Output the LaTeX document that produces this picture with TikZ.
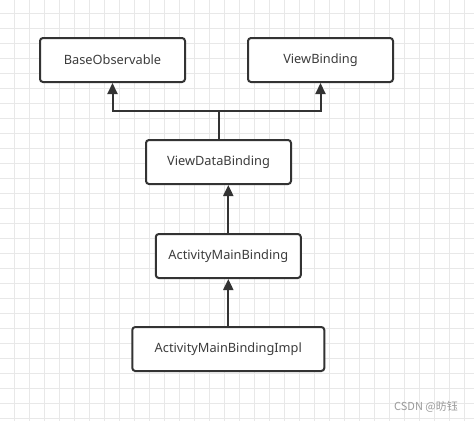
\documentclass[tikz,border=0pt]{standalone}
\usepackage{fontspec}
\setmainfont{Noto Sans}
\newfontfamily\cjkfont{Noto Sans CJK SC}
\usetikzlibrary{arrows.meta}
\definecolor{ink}{HTML}{333333}
\definecolor{txt}{HTML}{3C3C3C}
\definecolor{gridc}{HTML}{E8E8E8}
\definecolor{wm}{HTML}{9A9A9A}
\tikzset{
  cls/.style={draw=ink, line width=2pt, rounded corners=3pt, fill=white,
    minimum width=145pt, minimum height=44pt, inner sep=0pt,
    text=txt, font=\fontsize{12.8pt}{14pt}\selectfont},
  inh/.style={draw=ink, line width=2pt, -{Triangle[length=11pt,width=10pt]}},
}
\begin{document}
\begin{tikzpicture}[x=1pt,y=-1pt]
\useasboundingbox (0,0) rectangle (474,421);
\fill[white] (0,0) rectangle (474,421);
\foreach \i in {0,...,31} {\draw[gridc, line width=0.8pt] (14.3+15*\i,0) -- (14.3+15*\i,421);}
\foreach \i in {0,...,27} {\draw[gridc, line width=0.8pt] (0,13.3+15*\i) -- (474,13.3+15*\i);}
\node[cls] (bo) at (112.5,60) {BaseObservable};
\node[cls] (vb) at (320.5,60) {ViewBinding};
\node[cls] (vdb) at (218.5,162) {ViewDataBinding};
\node[cls] (amb) at (228.3,256) {ActivityMainBinding};
\node[cls, minimum width=192pt] (impl) at (228.3,349) {ActivityMainBindingImpl};
\coordinate (j) at (218.5,111);
\draw[draw=ink, line width=2pt] (vdb.north) -- (j);
\draw[inh] (j) -| (bo.south);
\draw[inh] (j) -| (vb.south);
\draw[inh] (amb.north) -- (amb.north |- vdb.south);
\draw[inh] (impl.north) -- (amb.south);
\node[anchor=base west, inner sep=0pt, text=wm, font=\cjkfont\fontsize{11pt}{12pt}\selectfont] (w) at (394,410) {CSDN @昉钰};
\end{tikzpicture}
\end{document}
